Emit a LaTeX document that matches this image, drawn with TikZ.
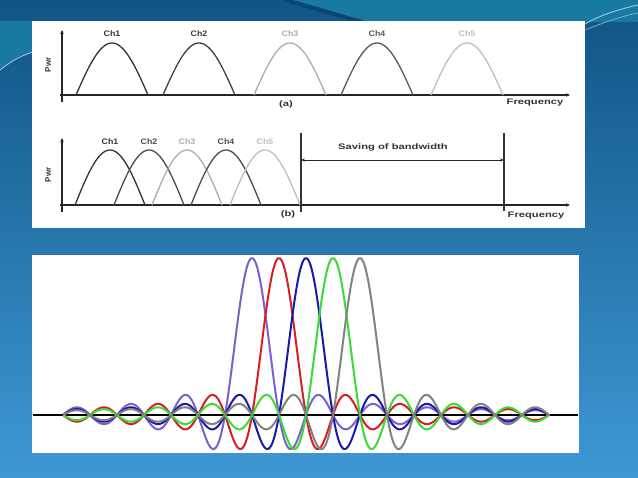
\documentclass[tikz,border=0pt]{standalone}
\usepackage{fontspec}
\setmainfont{Liberation Sans}
\usetikzlibrary{arrows.meta}
\usetikzlibrary{calc}

\definecolor{slidetop}{RGB}{16,84,132}
\definecolor{slidebot}{RGB}{62,152,212}
\definecolor{slideteal}{RGB}{24,122,162}
\definecolor{slidenavy}{RGB}{10,70,115}
\definecolor{sincpurple}{RGB}{125,95,205}
\definecolor{sincred}{RGB}{215,30,35}
\definecolor{sincblue}{RGB}{25,25,170}
\definecolor{sincgreen}{RGB}{55,220,55}
\definecolor{sincgray}{RGB}{130,130,130}

\tikzset{
	lbl/.style={font=\bfseries\fontsize{8}{9}\selectfont, inner sep=0pt, text=black!80},
	chlbl/.style={lbl, xscale=1.1},
	wide/.style={lbl, xscale=1.4},
	ax/.style={line width=1.1pt, black!85, -{Stealth[length=4pt,width=3.5pt]}},
	hump/.style={line width=1.3pt},
	wave/.style={line width=2pt, smooth},
}

\begin{document}
\begin{tikzpicture}[x=1pt,y=-1pt]
	\useasboundingbox (0,0) rectangle (638,478);
	\shade[top color=slidetop,bottom color=slidebot] (0,0) rectangle (638,478);
	\fill[slideteal] (290,0) .. controls (320,8) and (345,16) .. (365,22) -- (638,22) -- (638,0) -- cycle;
	\draw[slidenavy,line width=4pt] (285,0) .. controls (315,8) and (340,16) .. (362,22);
	\fill[slideteal] (0,21) -- (33,21) -- (33,52) .. controls (20,56) and (10,62) .. (0,70) -- cycle;
	\draw[white!60!slideteal,line width=0.8pt] (0,70) .. controls (10,62) and (20,56) .. (33,52);
	\draw[white!55!slideteal,line width=1pt] (585,24) .. controls (600,15) and (620,9) .. (638,5);
	\draw[white!40!slideteal,line width=0.8pt] (585,30) .. controls (605,22) and (622,16) .. (638,13);
	\fill[white] (32,21) rectangle (585,228);
	\fill[white] (32,255) rectangle (579,453);

	\coordinate (ya0) at (62,102); \coordinate (ya1) at (62,30);
	\coordinate (xa0) at (60,95); \coordinate (xa1) at (570,95);
	\draw[ax] (ya0) -- (ya1);
	\draw[ax] (xa0) -- (xa1);
	\foreach \c/\k [count=\i, evaluate=\c as \lo using \c-36, evaluate=\c as \hi using \c+36] in {112/80,199/75,290/32,377/65,467/25} {
		\draw[hump,black!\k] plot[domain=\lo:\hi,samples=40] (\x,{95-52*sin(180*(\x-\lo)/72)});
		\node[chlbl,text=black!\k] (cha\i) at (\c,34) {Ch\i};
	}
	\node[lbl,rotate=90] (pwra) at (48,65) {Pwr};
	\node[wide] (capa) at (286,104) {(a)};
	\node[wide] (freqa) at (535,103) {Frequency};

	\coordinate (yb0) at (62,212); \coordinate (yb1) at (62,138);
	\coordinate (xb0) at (60,205); \coordinate (xb1) at (570,205);
	\draw[ax] (yb0) -- (yb1);
	\draw[ax] (xb0) -- (xb1);
	\foreach \c/\k [count=\i, evaluate=\c as \lo using \c-35, evaluate=\c as \hi using \c+35] in {110/80,149/70,187/32,226/70,265/25} {
		\draw[hump,black!\k] plot[domain=\lo:\hi,samples=40] (\x,{205-55*sin(180*(\x-\lo)/70)});
		\node[chlbl,text=black!\k] (chb\i) at (\c,142) {Ch\i};
	}
	\node[lbl,rotate=90] (pwrb) at (48,175) {Pwr};
	\node[wide] (capb) at (288,214) {(b)};
	\node[wide] (freqb) at (536,216) {Frequency};
	\coordinate (bl0) at (301,133); \coordinate (bl1) at (301,212);
	\coordinate (br0) at (504,133); \coordinate (br1) at (504,211);
	\draw[line width=1.2pt,black!80] (bl0) -- (bl1) (br0) -- (br1);
	\coordinate (sl) at (301,160); \coordinate (sr) at (504,160);
	\draw[line width=0.9pt,black!85,{Stealth[length=4pt,width=3pt]}-{Stealth[length=4pt,width=3pt]}] (sl) -- (sr);
	\node[wide] (saving) at (393,147) {Saving of bandwidth};

	\coordinate (z0) at (33,415); \coordinate (z1) at (578,415);
	\draw[line width=1.6pt,black] (z0) -- (z1);
	\foreach \c/\col in {252/sincpurple,279/sincred,306/sincblue,333/sincgreen,360/sincgray}
		\draw[wave,\col] plot[domain=63.25:549.25,samples=325] (\x,{415-157*sin(((\x-\c)/27)*180)/(pi*(\x-\c)/27)});
\end{tikzpicture}
\end{document}
